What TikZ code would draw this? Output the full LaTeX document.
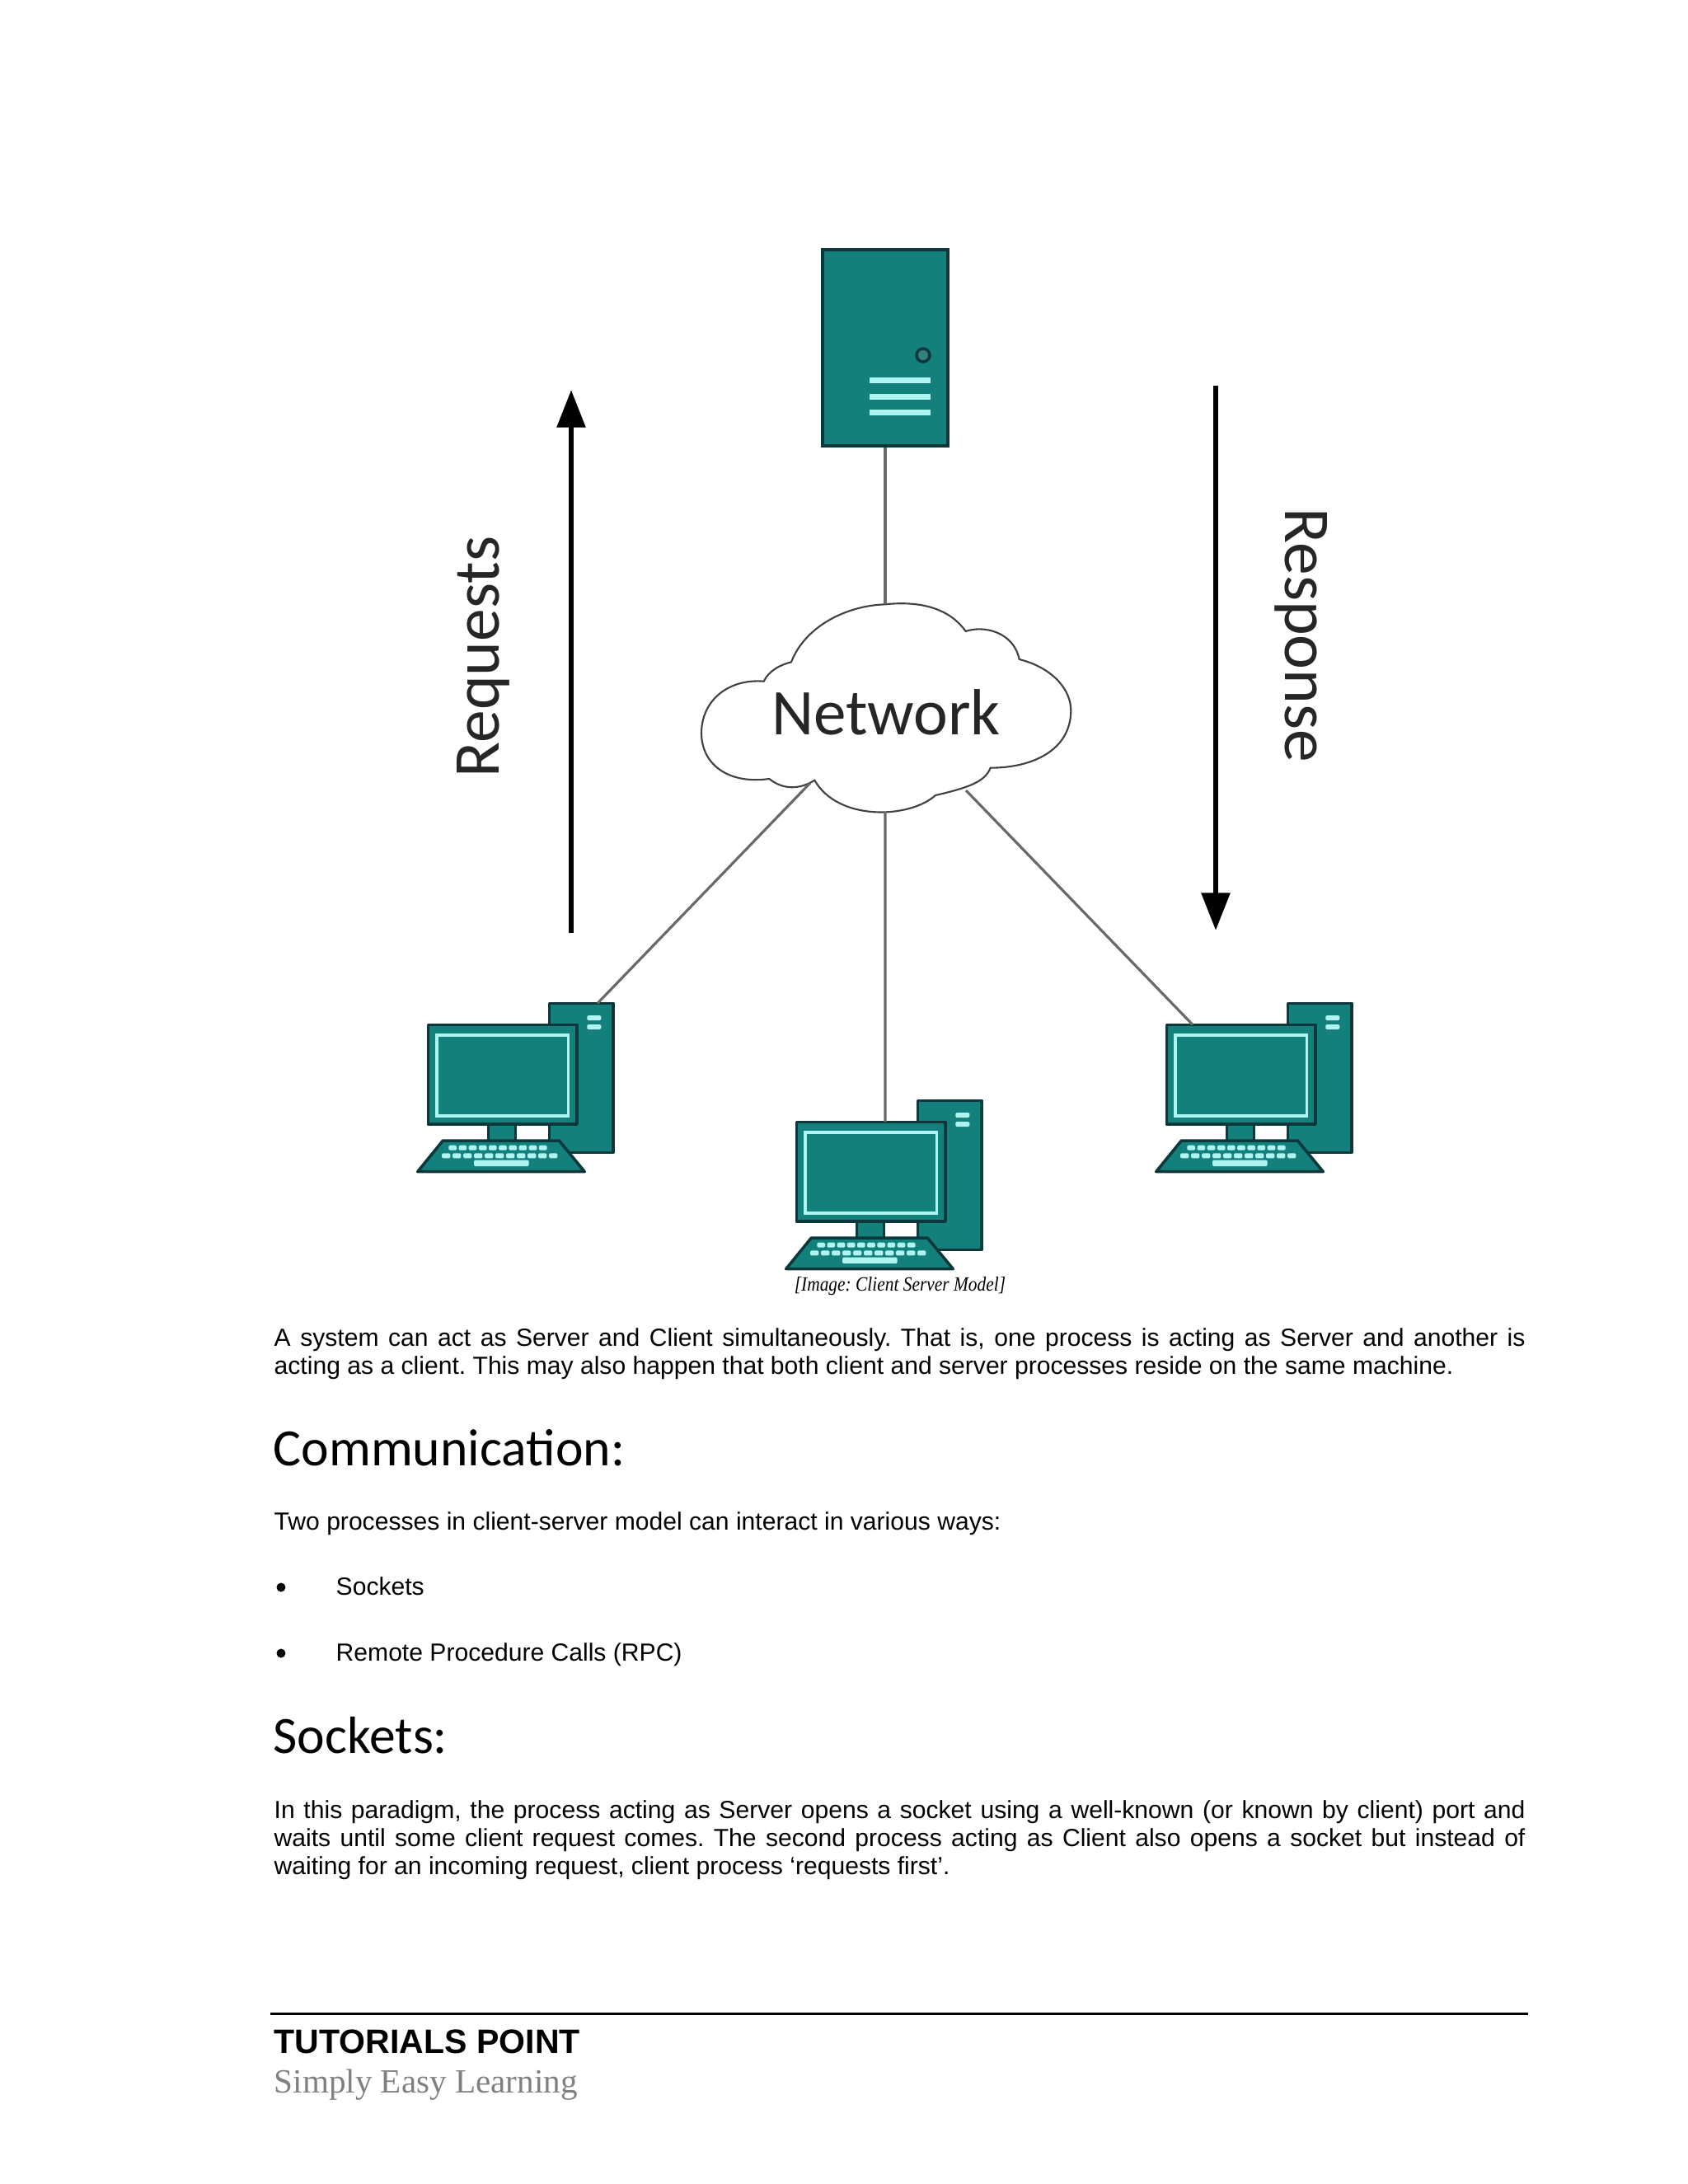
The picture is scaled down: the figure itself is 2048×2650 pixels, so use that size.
\documentclass[tikz,border=0pt]{standalone}
\usepackage{fontspec}
\setmainfont{Liberation Sans}
\newfontfamily\calibrifont{Carlito}
\newfontfamily\seriffont{Liberation Serif}
\newfontfamily\captionfont[FakeStretch=0.87]{Liberation Serif}
\usetikzlibrary{arrows.meta}
\definecolor{cTeal}{RGB}{20,128,124}
\definecolor{cEdge}{RGB}{12,56,60}
\definecolor{cLight}{RGB}{176,244,242}
\definecolor{cWire}{RGB}{105,105,105}
\definecolor{cTag}{RGB}{128,128,128}
\tikzset{
	% diagram styles
	tealpart/.style ={draw=cEdge, line width=1pt, fill=cTeal, line join=round},
	lightbar/.style ={fill=cLight, rounded corners=0.4pt},
	serverbox/.style={rectangle, draw=cEdge, line width=1pt, fill=cTeal, minimum width=1.52cm, minimum height=2.38cm, inner sep=0pt},
	wire/.style     ={cWire, line width=0.9pt},
	flow/.style     ={-{Triangle[length=13pt, width=9.6pt]}, line width=1.9pt, black},
	flowlabel/.style={font=\calibrifont\fontsize{22.6}{26}\selectfont, inner sep=0pt, anchor=base, text=black!85},
	% page text styles
	bodyline/.style ={font=\fontsize{8.56}{9.67}\selectfont, inner sep=0pt, anchor=base west},
	para/.style     ={font=\fontsize{8.56}{9.67}\selectfont\frenchspacing, inner sep=0pt, anchor=north west, text width=15.17cm, align=justify},
	heading/.style  ={font=\calibrifont\fontsize{18.1}{21}\selectfont, inner sep=0pt, anchor=base west},
	computer/.pic={
		\begin{scope}[scale=1/3]
			\draw[tealpart] (620,172) rectangle (852,715);
			\coordinate (-tower) at (795,172);
			\fill[lightbar] (757,216) rectangle (808,234);
			\fill[lightbar] (757,249) rectangle (808,267);
			\draw[tealpart] (398,612) rectangle (497,675);
			\draw[tealpart] (178,250) rectangle (720,612);
			\coordinate (-top) at (501,250);
			\coordinate (-corner) at (273,250);
			\draw[cLight, line width=0.9pt] (210,288) rectangle (688,582);
			\draw[tealpart] (140,785) -- (748,785) -- (655,672) -- (232,672) -- cycle;
			\foreach \k in {0,...,9} \fill[lightbar] (253+\k*36.5,689) rectangle +(29,18);
			\foreach \k in {0,...,10} \fill[lightbar] (228+\k*39,718) rectangle +(31,18);
			\fill[lightbar] (345,743) rectangle (545,765);
		\end{scope}
	},
}
\begin{document}
\begin{tikzpicture}[x=0.01cm, y=-0.01cm]
	\useasboundingbox (0,0) rectangle (2048,2650);
	% server
	\node[serverbox] (server) at (1074,422) {};
	\draw[cEdge, fill=cTeal!70!gray, line width=1pt] (1120,431) circle (8);
	\foreach \y in {461,481,500} \fill[cLight] (1055,\y-3.5) rectangle (1129,\y+3.5);
	% cloud
	\begin{scope}[shift={(820,710)}, scale=1/3]
		\draw[black!75, line width=0.6pt, fill=white] (760,70) .. controls (900,55) and (1000,90) .. (1055,168)
			.. controls (1120,145) and (1230,170) .. (1250,270)
			.. controls (1370,300) and (1440,380) .. (1438,460)
			.. controls (1435,600) and (1300,665) .. (1145,665)
			.. controls (1125,720) and (1050,740) .. (945,765)
			.. controls (850,850) and (590,860) .. (505,710)
			.. controls (450,745) and (390,745) .. (340,705)
			.. controls (200,725) and (95,660) .. (93,540)
			.. controls (93,420) and (190,340) .. (320,350)
			.. controls (340,310) and (380,290) .. (420,280)
			.. controls (470,150) and (620,75) .. (760,70) -- cycle;
	\end{scope}
	\node[font=\calibrifont\fontsize{22.5}{26}\selectfont, inner sep=0pt, anchor=base, text=black!85] (network) at (1075,891) {Network};
	\coordinate (netT) at (1074,733);
	\coordinate (netL) at (983,950);
	\coordinate (netB) at (1074,985);
	\coordinate (netR) at (1172,959);
	% clients
	\pic (cL) at (460,1160) {computer};
	\pic (cM) at (907,1278) {computer};
	\pic (cR) at (1356,1160) {computer};
	\draw[wire] (server.south) -- (netT);
	\draw[wire] (netL) -- (cL-tower);
	\draw[wire] (netB) -- (cM-top);
	\draw[wire] (netR) -- (cR-corner);
	% flows
	\coordinate (reqA) at (693,1132);
	\coordinate (reqB) at (693,473);
	\coordinate (resA) at (1475,468);
	\coordinate (resB) at (1475,1129);
	\draw[flow] (reqA) -- (reqB);
	\draw[flow] (resA) -- (resB);
	\node[flowlabel, rotate=90] (requests) at (605,797) {Requests};
	\node[flowlabel, rotate=-90] (response) at (1559,771) {Response};
	% page text
	\node[font=\captionfont\itshape\fontsize{7}{9}\selectfont\frenchspacing, inner sep=0pt, anchor=base] (caption) at (1092,1566) {[Image: Client Server Model]};
	\node[para] (intro) at (332,1611) {A system can act as Server and Client simultaneously. That is, one process is acting as Server and another is\linebreak acting as a client. This may also happen that both client and server processes reside on the same machine.};
	\node[heading] (comm) at (331,1778) {Communication:};
	\node[bodyline] (ways) at (332,1856) {Two processes in client-server model can interact in various ways:};
	\fill (341,1926) circle (5.5);
	\node[bodyline] (sock) at (407,1935) {Sockets};
	\fill (341,2006) circle (5.5);
	\node[bodyline] (rpc) at (407,2015) {Remote Procedure Calls (RPC)};
	\node[heading] (sockets) at (331,2127) {Sockets:};
	\node[para] (paradigm) at (332,2184) {In this paradigm, the process acting as Server opens a socket using a well-known (or known by client) port and\linebreak waits until some client request comes. The second process acting as Client also opens a socket but instead of\linebreak waiting for an incoming request, client process ‘requests first’.};
	% footer
	\coordinate (ruleA) at (328,2443);
	\coordinate (ruleB) at (1854,2443);
	\draw[line width=0.85pt] (ruleA) -- (ruleB);
	\node[font=\bfseries\fontsize{11.68}{14}\selectfont, inner sep=0pt, anchor=base west] (brand) at (332,2491) {TUTORIALS POINT};
	\node[font=\seriffont\fontsize{11.7}{14}\selectfont, text=cTag, inner sep=0pt, anchor=base west] (tagline) at (332,2539) {Simply Easy Learning};
\end{tikzpicture}
\end{document}
